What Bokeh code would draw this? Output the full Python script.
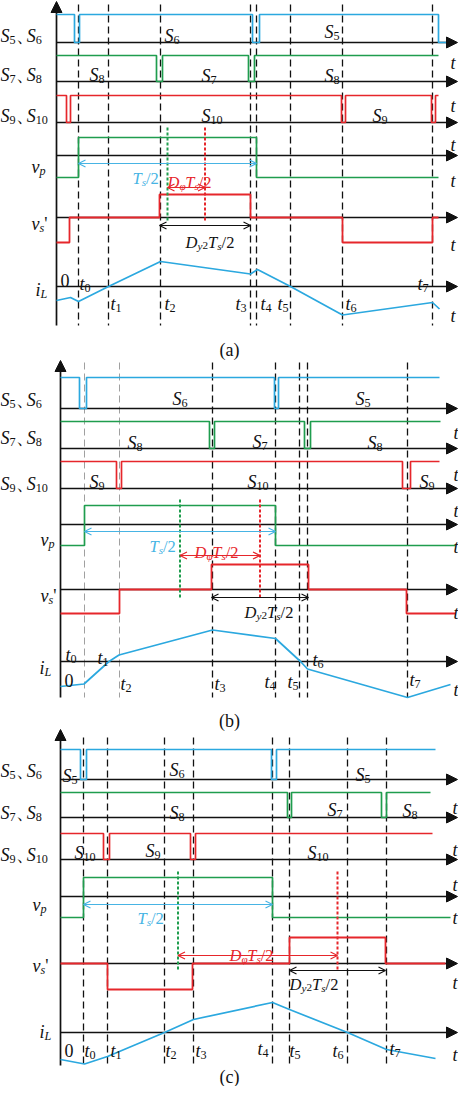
from bokeh.plotting import figure
from bokeh.models import Range1d, Arrow, NormalHead, OpenHead, ColumnDataSource
from bokeh.core.properties import value
from bokeh.embed import file_html
from bokeh.resources import INLINE

BLUE = "#2ba8df"
GREEN = "#1f9d4e"
RED = "#e6262b"
CYAN = "#47b4e4"
GRAY = "#a0a0a0"
BLACK = "#111111"
FONT = "Liberation Serif"

# ======================= DATA =======================
# times are measured from each panel's time-axis origin
# switch waveforms: (time, level) steps, level 1 = on, 0 = off
# ---- panel (a)
A_GUIDES = [22, 52, 104, 194, 200, 234, 286, 376]
A_S56 = [(0, 1), (18, 0), (23, 1), (196, 0), (203, 1), (382, 0)]
A_S78 = [(0, 1), (100, 0), (106, 1), (192, 0), (198, 1)]
A_S910 = [(0, 1), (10, 0), (14, 1), (285, 0), (289, 1), (375, 0), (379, 1)]
A_VP = [(0, -1), (22, 1), (200, -1)]
A_VS = [(0, -1), (13, 0), (103, 1), (194, 0), (286, -1), (376, 0)]
A_ENDS = [396, 382, 382, 382, 382]
A_IL_T = [0, 14, 22, 52, 104, 194, 201, 234, 286, 376, 383]
A_IL = [-14, -11, -15, 0, 25, 12.5, 17, 0, -28.5, -16, -22.5]

# ---- panel (b)
B_GUIDES = [24, 59, 152, 215, 239, 247, 347]
B_S56 = [(0, 1), (19, 0), (26, 1), (214, 0), (218, 1)]
B_S78 = [(0, 1), (149, 0), (154, 1), (244, 0), (250, 1)]
B_S910 = [(0, 1), (56, 0), (61, 1), (342, 0), (350, 1)]
B_VP = [(0, -1), (24, 1), (215, -1)]
B_VS = [(0, -1), (59, 0), (151, 1), (248, 0), (346, -1)]
B_ENDS = [379, 380, 379, 395, 395]
B_IL_T = [0, 23.5, 48.5, 58.5, 152, 215, 240, 247, 347, 390]
B_IL = [-25, -22.5, 0, 6.5, 31.5, 23, 0, -7.5, -36, -23]

# ---- panel (c)
C_GUIDES = [23, 47, 104, 133, 212, 229, 287, 326]
C_S56 = [(0, 1), (20, 0), (26, 1), (211, 0), (216, 1)]
C_S78 = [(0, 1), (227, 0), (231, 1), (321, 0), (326, 1)]
C_S910 = [(0, 1), (43, 0), (49, 1), (130, 0), (135, 1)]
C_VP = [(0, -1), (23, 1), (212, -1)]
C_VS = [(0, 0), (47, -1), (132, 0), (229, 1), (325, 0)]
C_ENDS = [375, 370, 372, 390, 385]
C_IL_T = [0, 24, 47, 104, 133, 212, 229, 287, 326, 375]
C_IL = [-27, -31.5, -24, 0, 13, 30, 23, 0, -17, -26]

# labels
ROW_NAMES = ["S_{5}、S_{6}", "S_{7}、S_{8}", "S_{9}、S_{10}", "v_{p}", "v_{s}'", "i_{L}"]
A_STATES = ["S_{6}", "S_{5}", "S_{8}", "S_{7}", "S_{8}", "S_{10}", "S_{9}"]
B_STATES = ["S_{6}", "S_{5}", "S_{8}", "S_{7}", "S_{8}", "S_{9}", "S_{10}", "S_{9}"]
C_STATES = ["S_{5}", "S_{6}", "S_{5}", "S_{8}", "S_{7}", "S_{8}", "S_{10}", "S_{9}", "S_{10}"]
A_TIMES = ["0", "t_{0}", "t_{1}", "t_{2}", "t_{3}", "t_{4}", "t_{5}", "t_{6}", "t_{7}"]
B_TIMES = ["t_{0}", "t_{1}", "0", "t_{2}", "t_{3}", "t_{4}", "t_{5}", "t_{6}", "t_{7}"]
C_TIMES = ["0", "t_{0}", "t_{1}", "t_{2}", "t_{3}", "t_{4}", "t_{5}", "t_{6}", "t_{7}"]
SPANS = ["T_{s}/2", "D_{φ}T_{s}/2", "D_{y2}T_{s}/2"]
CAPTIONS = ["(a)", "(b)", "(c)"]

# ======================= LAYOUT =======================
PANELS = [
    dict(data=(A_S56, A_S78, A_S910, A_VP, A_VS), ends=A_ENDS, il=(A_IL_T, A_IL), guides=A_GUIDES,
         gray=0, x0=64, rows=[(22, 50), (63, 89), (103, 130)], vp=(145, 163, 185), vs=(202, 225, 250),
         il_y=294, vaxis=(333, 9), gy=(12, 333), dots=(135, 229), ay=(171, 195, 233),
         row_pos=[(8, 38), (8, 77), (8, 118), (39, 169), (39, 226), (43, 292)],
         states=A_STATES, state_pos=[(172, 38), (332, 34), (97, 77), (209, 78), (332, 78), (209, 118), (380, 118)],
         times=A_TIMES, time_pos=[(68, 283), (87, 286), (118, 306), (172, 306), (243, 306), (268, 306),
                                  (285, 306), (353, 306), (425, 286)],
         tx=458, ty=[65, 108, 147, 183, 247, 318],
         span_pos=[(140, 181), (175, 185), (193, 245)], cap=(237, 352)),
    dict(data=(B_S56, B_S78, B_S910, B_VP, B_VS), ends=B_ENDS, il=(B_IL_T, B_IL), guides=B_GUIDES,
         gray=2, x0=68, rows=[(385, 416), (429, 456), (469, 496)], vp=(513, 532, 553), vs=(572, 597, 621),
         il_y=669, vaxis=(705, 368), gy=(370, 705), dots=(507, 606), ay=(539, 563, 605),
         row_pos=[(8, 402), (8, 440), (8, 486), (48, 542), (48, 598), (47, 670)],
         states=B_STATES, state_pos=[(180, 401), (363, 401), (135, 445), (260, 444), (375, 445), (97, 484),
                                     (255, 484), (427, 484)],
         times=B_TIMES, time_pos=[(73, 657), (105, 660), (72, 683), (128, 686), (222, 686), (272, 684),
                                  (295, 684), (320, 662), (417, 682)],
         tx=461, ty=[435, 477, 513, 549, 615, 692],
         span_pos=[(157, 549), (202, 555), (252, 615)], cap=(237, 723)),
    dict(data=(C_S56, C_S78, C_S910, C_VP, C_VS), ends=C_ENDS, il=(C_IL_T, C_IL), guides=C_GUIDES,
         gray=0, x0=68, rows=[(757, 787), (800, 825), (841, 867)], vp=(885, 904, 925), vs=(945, 971, 997),
         il_y=1040, vaxis=(1073, 737), gy=(745, 1073), dots=(879, 978), ay=(912, 963, 978),
         row_pos=[(8, 773), (8, 815), (8, 857), (40, 907), (40, 968), (47, 1034)],
         states=C_STATES, state_pos=[(70, 778), (177, 772), (363, 777), (177, 815), (335, 812), (410, 813),
                                     (82, 855), (153, 853), (315, 855)],
         times=C_TIMES, time_pos=[(72, 1053), (92, 1053), (118, 1053), (173, 1053), (203, 1053), (265, 1051),
                                  (297, 1053), (340, 1053), (397, 1051)],
         tx=460, ty=[810, 852, 887, 920, 985, 1057],
         span_pos=[(145, 921), (237, 958), (297, 987)], cap=(237, 1079)),
]
AXIS_END = 465

# ======================= TEXT HELPER =======================
EM = {"S": .5, "t": .278, "v": .444, "i": .278, "T": .556, "D": .722, "L": .556, "p": .5, "s": .389,
      "y": .444, "φ": .52, "/": .278, "(": .333, ")": .333, "a": .444, "b": .5, "c": .444, "'": .214,
      "、": 0.62, " ": .25}
TX, TY, TT, TS, TST, TC = [], [], [], [], [], []


def tw(s, size):
    return sum(EM.get(c, .5) for c in s) * size


def label(markup, x, y, color=BLACK, size=17, align="left", upright=False):
    runs, i, buf = [], 0, ""
    while i < len(markup):
        if markup.startswith("_{", i):
            if buf:
                runs.append((buf, False))
                buf = ""
            j = markup.index("}", i)
            runs.append((markup[i + 2:j], True))
            i = j + 1
        else:
            buf += markup[i]
            i += 1
    if buf:
        runs.append((buf, False))
    pieces = []
    for txt, sub in runs:
        for c in txt:
            it = (not upright) and c.isalpha()
            solo = c == "、"
            if pieces and not solo and not pieces[-1][3] and pieces[-1][1] == sub and pieces[-1][2] == it:
                pieces[-1][0] += c
            else:
                pieces.append([c, sub, it, solo])
    ssz = size * 0.68
    total = sum(tw(pc[0], ssz if pc[1] else size) for pc in pieces)
    cx = x - total / 2 if align == "center" else x
    base = y + 0.3 * size
    for txt, sub, it, _ in pieces:
        sz = ssz if sub else size
        TX.append(cx)
        TY.append(base + (0.2 * size if sub else 0))
        TT.append(txt)
        TS.append(f"{sz:.1f}px")
        TST.append("italic" if it else "normal")
        TC.append(color)
        cx += tw(txt, sz)


def step_path(steps, end, x0, ymap):
    xs, ys = [], []
    for k, (t, lev) in enumerate(steps):
        tn = steps[k + 1][0] if k + 1 < len(steps) else end
        xs += [x0 + t, x0 + tn]
        ys += [ymap[lev], ymap[lev]]
    return xs, ys


# ======================= FIGURE =======================
p = figure(width=458, height=1086, x_range=Range1d(8, 466), y_range=Range1d(1094, 8),
           output_backend="svg", toolbar_location=None, x_axis_type=None, y_axis_type=None,
           min_border=0)
p.outline_line_color = None
p.background_fill_color = "white"

gd = dict(x0=[], y0=[], x1=[], y1=[], c=[], w=[])
ax = dict(x0=[], y0=[], x1=[], y1=[])
heads = dict(x0=[], y0=[], x1=[], y1=[])
wav = dict(xs=[], ys=[], c=[])
vsw = dict(xs=[], ys=[])
dots = dict(x0=[], y0=[], x1=[], y1=[], c=[])
spans = {CYAN: dict(x0=[], x1=[], y=[]), RED: dict(x0=[], x1=[], y=[]), BLACK: dict(x0=[], x1=[], y=[])}

for P in PANELS:
    x0 = P["x0"]
    for k, t in enumerate(P["guides"]):
        g = k < P["gray"]
        gd["x0"].append(x0 + t); gd["x1"].append(x0 + t)
        gd["y0"].append(P["gy"][0]); gd["y1"].append(P["gy"][1])
        gd["c"].append(GRAY if g else BLACK); gd["w"].append(1.0 if g else 1.3)
    base_ys = [r[1] for r in P["rows"]] + [P["vp"][1], P["vs"][1], P["il_y"]]
    for by in base_ys:
        ax["x0"].append(x0); ax["x1"].append(AXIS_END - 4); ax["y0"].append(by); ax["y1"].append(by)
        heads["x0"].append(AXIS_END - 1); heads["x1"].append(AXIS_END); heads["y0"].append(by); heads["y1"].append(by)
    vb, vt = P["vaxis"]
    ax["x0"].append(x0); ax["x1"].append(x0); ax["y0"].append(vb); ax["y1"].append(vt + 4)
    heads["x0"].append(x0); heads["x1"].append(x0); heads["y0"].append(vt + 1); heads["y1"].append(vt)
    s56, s78, s910, vp, vs = P["data"]
    for steps, end, (hy, by), col in zip((s56, s78, s910), P["ends"][:3], P["rows"], (BLUE, GREEN, RED)):
        xs, ys = step_path(steps, end, x0, {1: hy, 0: by})
        wav["xs"].append(xs); wav["ys"].append(ys); wav["c"].append(col)
    xs, ys = step_path(vp, P["ends"][3], x0, {1: P["vp"][0], 0: P["vp"][1], -1: P["vp"][2]})
    wav["xs"].append(xs); wav["ys"].append(ys); wav["c"].append(GREEN)
    xs, ys = step_path(vs, P["ends"][4], x0, {1: P["vs"][0], 0: P["vs"][1], -1: P["vs"][2]})
    vsw["xs"].append(xs); vsw["ys"].append(ys)
    it_, iv = P["il"]
    wav["xs"].append([x0 + t for t in it_]); wav["ys"].append([P["il_y"] - v for v in iv]); wav["c"].append(BLUE)
    vp_on = [k for k, s in enumerate(vp) if s[1] == 1][0]
    vp_r, vp_f = vp[vp_on][0], vp[vp_on + 1][0]
    vs_on = [k for k, s in enumerate(vs) if s[1] == 1][0]
    vs_r = vs[vs_on][0]
    vs_f = vs[vs_on + 1][0] if vs_on + 1 < len(vs) else P["ends"][4]
    mid_p = (vp_r + vp_f) / 2
    mid_s = (vs_r + vs_f) / 2
    for xm, col in ((mid_p, GREEN), (mid_s, RED)):
        dots["x0"].append(x0 + xm); dots["x1"].append(x0 + xm)
        dots["y0"].append(P["dots"][0]); dots["y1"].append(P["dots"][1]); dots["c"].append(col)
    ya, yb, yc = P["ay"]
    for col, a, b, y in ((CYAN, vp_r, vp_f, ya), (RED, mid_p, mid_s, yb), (BLACK, vs_r, vs_f, yc)):
        spans[col]["x0"].append(x0 + a); spans[col]["x1"].append(x0 + b); spans[col]["y"].append(y)
    for name, (lx, ly) in zip(ROW_NAMES, P["row_pos"]):
        label(name, lx, ly, size=18)
    for name, (lx, ly) in zip(P["states"], P["state_pos"]):
        label(name, lx, ly, size=18)
    for name, (lx, ly) in zip(P["times"], P["time_pos"]):
        label(name, lx, ly, size=18)
    for ty in P["ty"]:
        label("t", P["tx"], ty, size=18)
    for name, (lx, ly), col in zip(SPANS, P["span_pos"], (CYAN, RED, BLACK)):
        label(name, lx, ly, color=col, size=16.5)

for cap, P in zip(CAPTIONS, PANELS):
    label(cap, P["cap"][0], P["cap"][1], size=18, align="center", upright=True)

p.segment(x0="x0", y0="y0", x1="x1", y1="y1", line_color="c", line_width="w", line_dash="7 4",
          source=ColumnDataSource(gd))
p.segment(x0="x0", y0="y0", x1="x1", y1="y1", line_color=BLACK, line_width=1.7,
          source=ColumnDataSource(ax))
p.multi_line(xs="xs", ys="ys", line_color="c", line_width=1.7, source=ColumnDataSource(wav))
p.multi_line(xs="xs", ys="ys", line_color=RED, line_width=1.8, source=ColumnDataSource(vsw))
p.segment(x0="x0", y0="y0", x1="x1", y1="y1", line_color="c", line_width=2, line_dash="3 2",
          source=ColumnDataSource(dots))
p.add_layout(Arrow(end=NormalHead(size=11, fill_color=BLACK, line_color=BLACK, line_width=1),
                   x_start="x0", y_start="y0", x_end="x1", y_end="y1", line_color=BLACK, line_width=2,
                   source=ColumnDataSource(heads)))
for col, d in spans.items():
    p.add_layout(Arrow(start=OpenHead(size=7, line_color=col, line_width=1.2),
                       end=OpenHead(size=7, line_color=col, line_width=1.2),
                       x_start="x0", y_start="y", x_end="x1", y_end="y", line_color=col, line_width=1.2,
                       source=ColumnDataSource(d)))

p.text(x="x", y="y", text="t", text_font_size="s", text_font_style="st", text_color="c",
       text_font=value(FONT), text_baseline="alphabetic", text_align="left",
       source=ColumnDataSource(dict(x=TX, y=TY, t=TT, s=TS, st=TST, c=TC)))

open("out.html", "w").write(file_html(p, INLINE))
